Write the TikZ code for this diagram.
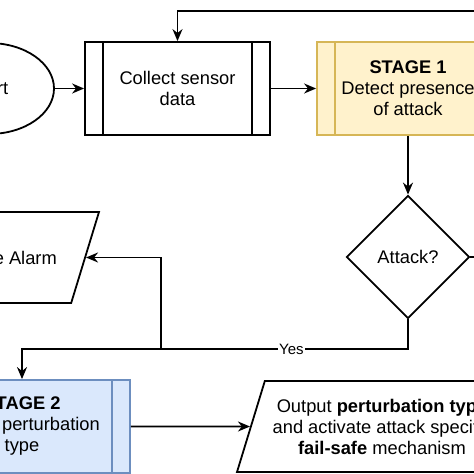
\documentclass[tikz,border=0pt]{standalone}
\usepackage{fontspec}
\setmainfont{Liberation Sans}
\usetikzlibrary{shapes.geometric,arrows.meta,calc}

\definecolor{yfill}{HTML}{FFF2CC}
\definecolor{yline}{HTML}{D6B656}
\definecolor{bfill}{HTML}{DAE8FC}
\definecolor{bline}{HTML}{6C8EBF}

\begin{document}
\begin{tikzpicture}[x=1pt, y=-1pt, line width=1.8pt,
		every node/.style={font=\fontsize{18.3}{21}\selectfont, align=center},
		proc/.style={rectangle, draw, minimum width=185pt, minimum height=93pt},
		io/.style={trapezium, trapezium left angle=73, trapezium right angle=107, trapezium stretches body=true, draw},
		flow/.style={-{Stealth[length=12pt, width=10pt]}}]
				\useasboundingbox (0, 0) rectangle (474, 474);

				% ノードを置く
				\node[ellipse, draw, minimum width=130pt, minimum height=91pt] (A) at (-11, 88.5) {Start};
				\node[proc] (B) at (177.5, 88.5) {Collect sensor\\data};
				\node[proc, minimum width=182pt, fill=yfill, draw=yline] (C) at (408, 88.5) {\textbf{STAGE 1}\\Detect presence\\of attack};
				\node[diamond, draw, minimum width=123pt, minimum height=123pt] (D) at (408, 257) {Attack?};
				\node[io, minimum width=184pt, inner ysep=38.8pt] (E) at (7, 257.5) {Raise Alarm};
				\node[proc, minimum width=216pt, fill=bfill, draw=bline] (F) at (22, 426.5) {\textbf{STAGE 2}\\Detect perturbation\\type};
				\node[io, minimum width=290pt, inner ysep=17.8pt] (G) at (382, 426.5) {Output \textbf{perturbation type}\\and activate attack specific\\\textbf{fail-safe} mechanism};
				\coordinate (N) at (500, 11);
				\coordinate (Y) at (161, 349);
				\coordinate (Er) at ($(E.top right corner)!0.5!(E.bottom right corner)$);
				\coordinate (Gl) at ($(G.top left corner)!0.5!(G.bottom left corner)$);

				% 縦の線
				\draw ([xshift=19pt]B.north west) -- ([xshift=19pt]B.south west);
				\draw ([xshift=-19pt]B.north east) -- ([xshift=-19pt]B.south east);
				\draw[yline] ([xshift=19pt]C.north west) -- ([xshift=19pt]C.south west);
				\draw[yline] ([xshift=-19pt]C.north east) -- ([xshift=-19pt]C.south east);
				\draw[bline] ([xshift=19pt]F.north west) -- ([xshift=19pt]F.south west);
				\draw[bline] ([xshift=-19pt]F.north east) -- ([xshift=-19pt]F.south east);

				% 線を引く
				\draw[flow] (A) -- (B);
				\draw[flow] (B) -- (C);
				\draw[flow] (C) -- (D);
				\draw[flow] (D.east) -| (N) -| (B.north);
				\draw[flow] (D.south) |- (Y) node[pos=0.736, fill=white, inner sep=1pt, font=\fontsize{15}{18}\selectfont] {Yes} -| (F.north);
				\draw[flow] (Y) |- (Er);
				\draw[flow] (F) -- (Gl);

			\end{tikzpicture}
\end{document}
